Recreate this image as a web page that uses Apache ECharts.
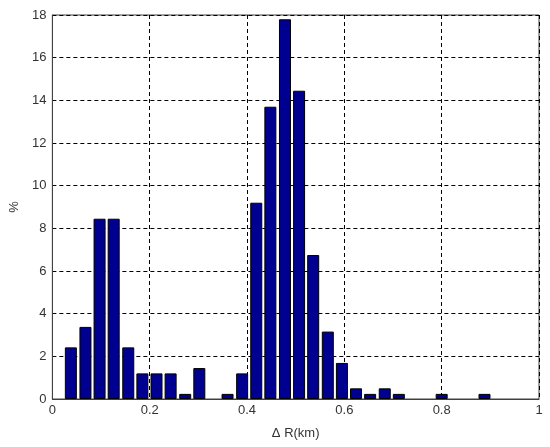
<!DOCTYPE html>
<html>
<head>
<meta charset="utf-8">
<script src="https://cdn.jsdelivr.net/npm/echarts@6/dist/echarts.min.js"></script>
<style>html,body{margin:0;padding:0;background:#fff}#c{width:550px;height:447px}</style>
</head>
<body>
<div id="c"></div>
<script>
var binCenters = [0.038, 0.068, 0.097, 0.126, 0.156, 0.185, 0.214, 0.243, 0.273, 0.302,
                  0.360, 0.390, 0.419, 0.448, 0.478, 0.507, 0.536, 0.566, 0.595, 0.624,
                  0.653, 0.683, 0.712, 0.800, 0.888];
var percentValues = [2.42, 3.38, 8.45, 8.45, 2.42, 1.20, 1.20, 1.20, 0.24, 1.45,
                     0.24, 1.20, 9.20, 13.70, 17.80, 14.45, 6.75, 3.16, 1.69, 0.50,
                     0.24, 0.50, 0.24, 0.24, 0.24];
var xTicks = [0, 0.2, 0.4, 0.6, 0.8, 1];
var yTicks = [0, 2, 4, 6, 8, 10, 12, 14, 16, 18];

var data = binCenters.map(function (x, i) { return [x, percentValues[i]]; });
var font = 'Liberation Sans, Arial, sans-serif';
var chart = echarts.init(document.getElementById('c'), null, {renderer: 'canvas'});
chart.setOption({
  animation: false,
  backgroundColor: '#fff',
  grid: {left: 51, right: 11, top: 15, bottom: 48, show: true, borderColor: '#404040', borderWidth: 1, backgroundColor: 'transparent'},
  xAxis: {
    type: 'value', min: xTicks[0], max: xTicks[xTicks.length - 1], interval: 0.2,
    name: 'Δ R(km)', nameLocation: 'middle', nameGap: 28,
    nameTextStyle: {fontFamily: font, fontSize: 13, color: '#333'},
    axisLine: {show: true, lineStyle: {color: '#404040', width: 1}},
    axisTick: {show: false},
    axisLabel: {fontFamily: font, fontSize: 13, color: '#333', margin: 5,
      formatter: function (v) { return String(+v.toFixed(1)); }},
    splitLine: {show: true, lineStyle: {color: '#000', type: [4, 3], width: 1}}
  },
  yAxis: {
    type: 'value', min: yTicks[0], max: yTicks[yTicks.length - 1], interval: 2,
    name: '%', nameLocation: 'middle', nameGap: 25, nameRotate: 90,
    nameTextStyle: {fontFamily: font, fontSize: 13, color: '#333'},
    axisLine: {show: true, lineStyle: {color: '#404040', width: 1}},
    axisTick: {show: false},
    axisLabel: {fontFamily: font, fontSize: 13, color: '#333', margin: 6},
    splitLine: {show: true, lineStyle: {color: '#000', type: [4, 3], width: 1}}
  },
  series: [{
    type: 'bar',
    data: data,
    barWidth: 12,
    itemStyle: {color: '#000090', borderColor: '#000', borderWidth: 1}
  }]
});
</script>
</body>
</html>
